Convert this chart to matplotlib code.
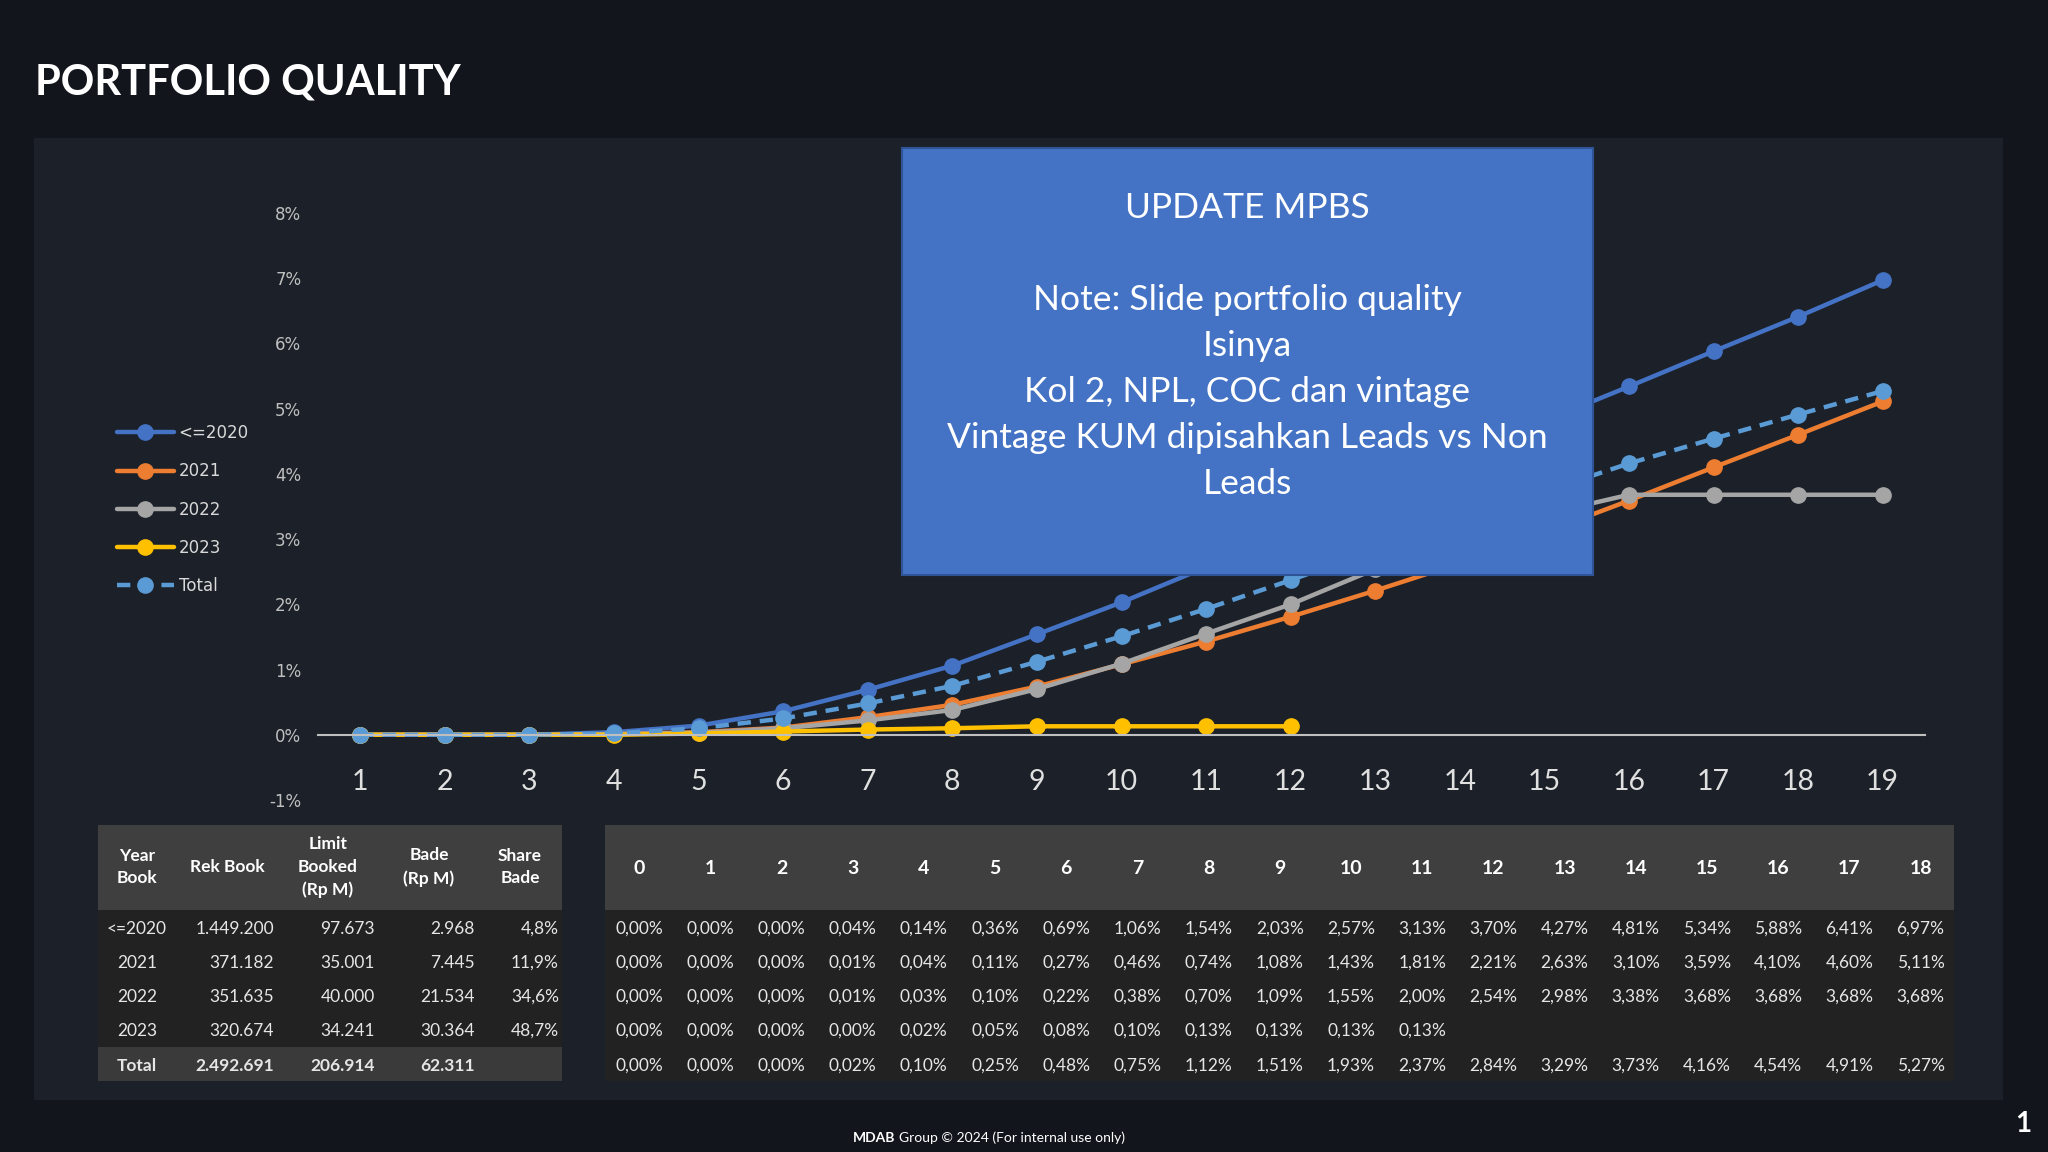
import matplotlib
matplotlib.use("Agg")
import matplotlib.pyplot as plt
from matplotlib.patches import Rectangle

# ── data ───────────────────────────────────────────────────────────────
months = list(range(1, 20))
v_2020 = [0, 0, 0, 0.04, 0.14, 0.36, 0.69, 1.06, 1.54, 2.03, 2.57, 3.13, 3.70, 4.27, 4.81, 5.34, 5.88, 6.41, 6.97]
v_2021 = [0, 0, 0, 0.01, 0.04, 0.11, 0.27, 0.46, 0.74, 1.08, 1.43, 1.81, 2.21, 2.63, 3.10, 3.59, 4.10, 4.60, 5.11]
v_2022 = [0, 0, 0, 0.01, 0.03, 0.10, 0.22, 0.38, 0.70, 1.09, 1.55, 2.00, 2.54, 2.98, 3.38, 3.68, 3.68, 3.68, 3.68]
v_2023 = [0, 0, 0, 0.00, 0.02, 0.05, 0.08, 0.10, 0.13, 0.13, 0.13, 0.13]
v_total = [0, 0, 0, 0.02, 0.10, 0.25, 0.48, 0.75, 1.12, 1.51, 1.93, 2.37, 2.84, 3.29, 3.73, 4.16, 4.54, 4.91, 5.27]

series_names = ["<=2020", "2021", "2022", "2023", "Total"]
series_vals = [v_2020, v_2021, v_2022, v_2023, v_total]
series_colors = ["#4472C4", "#ED7D31", "#A5A5A5", "#FFC000", "#5B9BD5"]

year_book = ["<=2020", "2021", "2022", "2023", "Total"]
rek_book = ["1.449.200", "371.182", "351.635", "320.674", "2.492.691"]
limit_booked = ["97.673", "35.001", "40.000", "34.241", "206.914"]
bade = ["2.968", "7.445", "21.534", "30.364", "62.311"]
share_bade = ["4,8%", "11,9%", "34,6%", "48,7%", ""]
left_headers = ["Year\nBook", "Rek Book", "Limit\nBooked\n(Rp M)", "Bade\n(Rp M)", "Share\nBade"]

note_lines = ["UPDATE MPBS", "", "Note: Slide portfolio quality", "Isinya",
              "Kol 2, NPL, COC dan vintage", "Vintage KUM dipisahkan Leads vs Non", "Leads"]

W, H = 2048, 1152


def fx(px):
    return px / W


def fy(py):
    return 1 - py / H


def rect(x0, y0, x1, y1, color, z=1, **kw):
    fig.patches.append(Rectangle((fx(x0), fy(y1)), fx(x1) - fx(x0), fy(y0) - fy(y1),
                                 transform=fig.transFigure, facecolor=color, zorder=z, **kw))


fig = plt.figure(figsize=(W / 100, H / 100), dpi=100)
fig.patch.set_facecolor("#12151b")
rect(34, 138, 2003, 1100, "#1c2129", z=-1)

# ── chart ──────────────────────────────────────────────────────────────
ax = fig.add_axes([fx(318), fy(800), fx(1925) - fx(318), fy(213) - fy(800)])
ax.set_facecolor("none")
for s in ["top", "right", "left"]:
    ax.spines[s].set_visible(False)
ax.spines["bottom"].set_position(("data", 0))
ax.spines["bottom"].set_color("#bfbfbf")
ax.spines["bottom"].set_linewidth(1.5)

for name, vals, col in zip(series_names, series_vals, series_colors):
    ls = (0, (3, 2)) if name == "Total" else "-"
    ax.plot(months[:len(vals)], vals, color=col, lw=3.2, ls=ls, marker="o", markersize=11,
            label=name, solid_capstyle="round")
ax.set_xlim(0.5, 19.5)
ax.set_ylim(-1, 8)
ax.set_yticks(range(-1, 9))
ax.set_yticklabels([f"{t}%" for t in range(-1, 9)], color="#bfbfbf", fontsize=12, family="DejaVu Sans")
ax.set_xticks(months)
ax.set_xticklabels([str(m) for m in months], color="#e0e0e0", fontsize=20.5, family="Lato")
ax.tick_params(axis="both", length=0)
ax.tick_params(axis="y", pad=12)
ax.tick_params(axis="x", pad=25)

leg = ax.legend(loc="upper left", bbox_to_anchor=(fx(117), fy(424)), bbox_transform=fig.transFigure,
                frameon=False, handlelength=3.4, handletextpad=0.3, labelspacing=1.22,
                borderpad=0, borderaxespad=0, prop={"family": "DejaVu Sans", "size": 12})
for t in leg.get_texts():
    t.set_color("#d9d9d9")

# ── note box ───────────────────────────────────────────────────────────
rect(902, 148, 1593, 575, "#4472C4", z=5, edgecolor="#2f5597", linewidth=1.5)
for i, line in enumerate(note_lines):
    fig.text(fx(1247), fy(208 + i * 46), line, ha="center", va="center", color="white",
             fontsize=25.5, family="Lato", zorder=6)

# ── title / footer ─────────────────────────────────────────────────────
fig.text(fx(35), fy(82), "PORTFOLIO QUALITY", ha="left", va="center", color="white",
         fontsize=30, fontweight="bold", family="Lato")
fig.text(fx(853), fy(1138), "MDAB", ha="left", va="center", color="white", fontsize=10,
         fontweight="bold", family="Lato")
fig.text(fx(899), fy(1138), "Group \u00a9 2024 (For internal use only)", ha="left", va="center",
         color="white", fontsize=10, family="Lato")
fig.text(fx(2023), fy(1124), "1", ha="center", va="center", color="white", fontsize=20,
         fontweight="bold", family="Lato")

# ── left table ─────────────────────────────────────────────────────────
row_y = [929, 963, 997, 1031, 1066]
rect(98, 825, 562, 910, "#3f3f3f", z=2)
rect(98, 910, 562, 1047, "#222222", z=2)
rect(98, 1047, 562, 1081, "#3a3a3a", z=2)
head_x = [137, 227, 328, 429, 520]
for hx, h in zip(head_x, left_headers):
    fig.text(fx(hx), fy(867), h, ha="center", va="center", color="white", fontsize=12.5,
             fontweight="bold", family="Lato", linespacing=1.5, zorder=3)
cols = [rek_book, limit_booked, bade, share_bade]
right_x = [274, 375, 475, 559]
for r in range(len(year_book)):
    bold = "bold" if year_book[r] == "Total" else "normal"
    fig.text(fx(137), fy(row_y[r]), year_book[r], ha="center", va="center", color="#e6e6e6",
             fontsize=12.5, fontweight=bold, family="Lato", zorder=3)
    for cx, col in zip(right_x, cols):
        fig.text(fx(cx), fy(row_y[r]), col[r], ha="right", va="center", color="#e6e6e6",
                 fontsize=12.5, fontweight=bold, family="Lato", zorder=3)

# ── right table ────────────────────────────────────────────────────────
rect(605, 825, 1954, 910, "#3f3f3f", z=2)
rect(605, 910, 1954, 1081, "#222222", z=2)
for i in range(len(v_2020)):
    cx = 639 + i * 71.2
    fig.text(fx(cx), fy(868), str(i), ha="center", va="center", color="white", fontsize=14,
             fontweight="bold", family="Lato", zorder=3)
    for r, vals in enumerate([v_2020, v_2021, v_2022, v_2023, v_total]):
        if i < len(vals):
            s = f"{vals[i]:.2f}%".replace(".", ",")
            fig.text(fx(cx), fy(row_y[r]), s, ha="center", va="center", color="#e6e6e6",
                     fontsize=12.5, family="Lato", zorder=3)

fig.savefig("out.png", dpi=100, facecolor=fig.get_facecolor())
